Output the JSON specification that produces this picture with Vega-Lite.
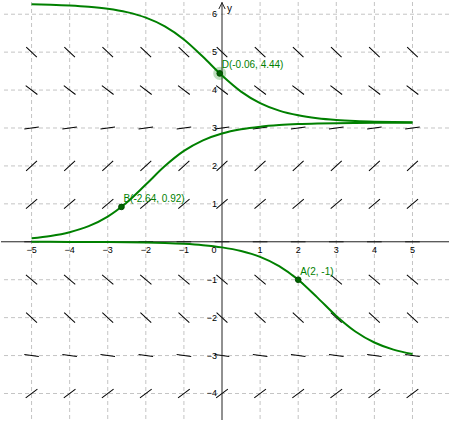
{
  "$schema": "https://vega.github.io/schema/vega-lite/v6.json",
  "width": 450,
  "height": 421,
  "autosize": {"type": "fit", "contains": "padding"},
  "padding": 0,
  "background": "white",
  "config": {"view": {"stroke": null}},
  "datasets": {
    "gridx": [{"v": -5}, {"v": -4}, {"v": -3}, {"v": -2}, {"v": -1}, {"v": 1}, {"v": 2}, {"v": 3}, {"v": 4}, {"v": 5}],
    "gridy": [{"v": -4}, {"v": -3}, {"v": -2}, {"v": -1}, {"v": 1}, {"v": 2}, {"v": 3}, {"v": 4}, {"v": 5}, {"v": 6}],
    "field": [
      {"x": -5, "y": 5, "slope_deg": -43.8}, {"x": -4, "y": 5, "slope_deg": -43.8}, {"x": -3, "y": 5, "slope_deg": -43.8}, {"x": -2, "y": 5, "slope_deg": -43.8}, {"x": -1, "y": 5, "slope_deg": -43.8}, {"x": 0, "y": 5, "slope_deg": -43.8}, {"x": 1, "y": 5, "slope_deg": -43.8}, {"x": 2, "y": 5, "slope_deg": -43.8}, {"x": 3, "y": 5, "slope_deg": -43.8}, {"x": 4, "y": 5, "slope_deg": -43.8}, {"x": 5, "y": 5, "slope_deg": -43.8},
      {"x": -5, "y": 4, "slope_deg": -37.12}, {"x": -4, "y": 4, "slope_deg": -37.12}, {"x": -3, "y": 4, "slope_deg": -37.12}, {"x": -2, "y": 4, "slope_deg": -37.12}, {"x": -1, "y": 4, "slope_deg": -37.12}, {"x": 0, "y": 4, "slope_deg": -37.12}, {"x": 1, "y": 4, "slope_deg": -37.12}, {"x": 2, "y": 4, "slope_deg": -37.12}, {"x": 3, "y": 4, "slope_deg": -37.12}, {"x": 4, "y": 4, "slope_deg": -37.12}, {"x": 5, "y": 4, "slope_deg": -37.12},
      {"x": -5, "y": 3, "slope_deg": 8.03}, {"x": -4, "y": 3, "slope_deg": 8.03}, {"x": -3, "y": 3, "slope_deg": 8.03}, {"x": -2, "y": 3, "slope_deg": 8.03}, {"x": -1, "y": 3, "slope_deg": 8.03}, {"x": 0, "y": 3, "slope_deg": 8.03}, {"x": 1, "y": 3, "slope_deg": 8.03}, {"x": 2, "y": 3, "slope_deg": 8.03}, {"x": 3, "y": 3, "slope_deg": 8.03}, {"x": 4, "y": 3, "slope_deg": 8.03}, {"x": 5, "y": 3, "slope_deg": 8.03},
      {"x": -5, "y": 2, "slope_deg": 42.28}, {"x": -4, "y": 2, "slope_deg": 42.28}, {"x": -3, "y": 2, "slope_deg": 42.28}, {"x": -2, "y": 2, "slope_deg": 42.28}, {"x": -1, "y": 2, "slope_deg": 42.28}, {"x": 0, "y": 2, "slope_deg": 42.28}, {"x": 1, "y": 2, "slope_deg": 42.28}, {"x": 2, "y": 2, "slope_deg": 42.28}, {"x": 3, "y": 2, "slope_deg": 42.28}, {"x": 4, "y": 2, "slope_deg": 42.28}, {"x": 5, "y": 2, "slope_deg": 42.28},
      {"x": -5, "y": 1, "slope_deg": 40.08}, {"x": -4, "y": 1, "slope_deg": 40.08}, {"x": -3, "y": 1, "slope_deg": 40.08}, {"x": -2, "y": 1, "slope_deg": 40.08}, {"x": -1, "y": 1, "slope_deg": 40.08}, {"x": 0, "y": 1, "slope_deg": 40.08}, {"x": 1, "y": 1, "slope_deg": 40.08}, {"x": 2, "y": 1, "slope_deg": 40.08}, {"x": 3, "y": 1, "slope_deg": 40.08}, {"x": 4, "y": 1, "slope_deg": 40.08}, {"x": 5, "y": 1, "slope_deg": 40.08},
      {"x": -5, "y": 0, "slope_deg": 0}, {"x": -4, "y": 0, "slope_deg": 0}, {"x": -3, "y": 0, "slope_deg": 0}, {"x": -2, "y": 0, "slope_deg": 0}, {"x": -1, "y": 0, "slope_deg": 0}, {"x": 0, "y": 0, "slope_deg": 0}, {"x": 1, "y": 0, "slope_deg": 0}, {"x": 2, "y": 0, "slope_deg": 0}, {"x": 3, "y": 0, "slope_deg": 0}, {"x": 4, "y": 0, "slope_deg": 0}, {"x": 5, "y": 0, "slope_deg": 0},
      {"x": -5, "y": -1, "slope_deg": -40.08}, {"x": -4, "y": -1, "slope_deg": -40.08}, {"x": -3, "y": -1, "slope_deg": -40.08}, {"x": -2, "y": -1, "slope_deg": -40.08}, {"x": -1, "y": -1, "slope_deg": -40.08}, {"x": 0, "y": -1, "slope_deg": -40.08}, {"x": 1, "y": -1, "slope_deg": -40.08}, {"x": 2, "y": -1, "slope_deg": -40.08}, {"x": 3, "y": -1, "slope_deg": -40.08}, {"x": 4, "y": -1, "slope_deg": -40.08}, {"x": 5, "y": -1, "slope_deg": -40.08},
      {"x": -5, "y": -2, "slope_deg": -42.28}, {"x": -4, "y": -2, "slope_deg": -42.28}, {"x": -3, "y": -2, "slope_deg": -42.28}, {"x": -2, "y": -2, "slope_deg": -42.28}, {"x": -1, "y": -2, "slope_deg": -42.28}, {"x": 0, "y": -2, "slope_deg": -42.28}, {"x": 1, "y": -2, "slope_deg": -42.28}, {"x": 2, "y": -2, "slope_deg": -42.28}, {"x": 3, "y": -2, "slope_deg": -42.28}, {"x": 4, "y": -2, "slope_deg": -42.28}, {"x": 5, "y": -2, "slope_deg": -42.28},
      {"x": -5, "y": -3, "slope_deg": -8.03}, {"x": -4, "y": -3, "slope_deg": -8.03}, {"x": -3, "y": -3, "slope_deg": -8.03}, {"x": -2, "y": -3, "slope_deg": -8.03}, {"x": -1, "y": -3, "slope_deg": -8.03}, {"x": 0, "y": -3, "slope_deg": -8.03}, {"x": 1, "y": -3, "slope_deg": -8.03}, {"x": 2, "y": -3, "slope_deg": -8.03}, {"x": 3, "y": -3, "slope_deg": -8.03}, {"x": 4, "y": -3, "slope_deg": -8.03}, {"x": 5, "y": -3, "slope_deg": -8.03},
      {"x": -5, "y": -4, "slope_deg": 37.12}, {"x": -4, "y": -4, "slope_deg": 37.12}, {"x": -3, "y": -4, "slope_deg": 37.12}, {"x": -2, "y": -4, "slope_deg": 37.12}, {"x": -1, "y": -4, "slope_deg": 37.12}, {"x": 0, "y": -4, "slope_deg": 37.12}, {"x": 1, "y": -4, "slope_deg": 37.12}, {"x": 2, "y": -4, "slope_deg": 37.12}, {"x": 3, "y": -4, "slope_deg": 37.12}, {"x": 4, "y": -4, "slope_deg": 37.12}, {"x": 5, "y": -4, "slope_deg": 37.12}
    ],
    "curves": [
      {"curve": "B", "x": -5, "y": 0.0935}, {"curve": "B", "x": -4.5, "y": 0.154}, {"curve": "B", "x": -4, "y": 0.253}, {"curve": "B", "x": -3.5, "y": 0.4133}, {"curve": "B", "x": -3, "y": 0.6656}, {"curve": "B", "x": -2.5, "y": 1.036}, {"curve": "B", "x": -2, "y": 1.5086}, {"curve": "B", "x": -1.5, "y": 1.9952}, {"curve": "B", "x": -1, "y": 2.3953}, {"curve": "B", "x": -0.5, "y": 2.6753}, {"curve": "B", "x": 0, "y": 2.8555}, {"curve": "B", "x": 0.5, "y": 2.9673}, {"curve": "B", "x": 1, "y": 3.0357}, {"curve": "B", "x": 1.5, "y": 3.0773}, {"curve": "B", "x": 2, "y": 3.1026}, {"curve": "B", "x": 2.5, "y": 3.118}, {"curve": "B", "x": 3, "y": 3.1273}, {"curve": "B", "x": 3.5, "y": 3.1329}, {"curve": "B", "x": 4, "y": 3.1363}, {"curve": "B", "x": 4.5, "y": 3.1384}, {"curve": "B", "x": 5, "y": 3.1397},
      {"curve": "D", "x": -5, "y": 6.2643}, {"curve": "D", "x": -4.5, "y": 6.2521}, {"curve": "D", "x": -4, "y": 6.2319}, {"curve": "D", "x": -3.5, "y": 6.1987}, {"curve": "D", "x": -3, "y": 6.1441}, {"curve": "D", "x": -2.5, "y": 6.0545}, {"curve": "D", "x": -2, "y": 5.9089}, {"curve": "D", "x": -1.5, "y": 5.6782}, {"curve": "D", "x": -1, "y": 5.3325}, {"curve": "D", "x": -0.5, "y": 4.8758}, {"curve": "D", "x": 0, "y": 4.3827}, {"curve": "D", "x": 0.5, "y": 3.9597}, {"curve": "D", "x": 1, "y": 3.6559}, {"curve": "D", "x": 1.5, "y": 3.4579}, {"curve": "D", "x": 2, "y": 3.3345}, {"curve": "D", "x": 2.5, "y": 3.2588}, {"curve": "D", "x": 3, "y": 3.2127}, {"curve": "D", "x": 3.5, "y": 3.1848}, {"curve": "D", "x": 4, "y": 3.1678}, {"curve": "D", "x": 4.5, "y": 3.1575}, {"curve": "D", "x": 5, "y": 3.1512},
      {"curve": "A", "x": -5, "y": -0.001}, {"curve": "A", "x": -4.5, "y": -0.0016}, {"curve": "A", "x": -4, "y": -0.0027}, {"curve": "A", "x": -3.5, "y": -0.0045}, {"curve": "A", "x": -3, "y": -0.0074}, {"curve": "A", "x": -2.5, "y": -0.0121}, {"curve": "A", "x": -2, "y": -0.02}, {"curve": "A", "x": -1.5, "y": -0.033}, {"curve": "A", "x": -1, "y": -0.0544}, {"curve": "A", "x": -0.5, "y": -0.0896}, {"curve": "A", "x": 0, "y": -0.1476}, {"curve": "A", "x": 0.5, "y": -0.2426}, {"curve": "A", "x": 1, "y": -0.3967}, {"curve": "A", "x": 1.5, "y": -0.6399}, {"curve": "A", "x": 2, "y": -1.0}, {"curve": "A", "x": 2.5, "y": -1.4664}, {"curve": "A", "x": 3, "y": -1.9563}, {"curve": "A", "x": 3.5, "y": -2.3661}, {"curve": "A", "x": 4, "y": -2.6559}, {"curve": "A", "x": 4.5, "y": -2.8433}, {"curve": "A", "x": 5, "y": -2.9598}
    ],
    "pts": [
      {"name": "A", "x": 2, "y": -1, "label": "A(2, -1)", "selected": false},
      {"name": "B", "x": -2.64, "y": 0.92, "label": "B(-2.64, 0.92)", "selected": false},
      {"name": "D", "x": -0.06, "y": 4.44, "label": "D(-0.06, 4.44)", "selected": true}
    ],
    "xlabels": [{"v": -5, "t": "−5"}, {"v": -4, "t": "−4"}, {"v": -3, "t": "−3"}, {"v": -2, "t": "−2"}, {"v": -1, "t": "−1"}, {"v": 1, "t": "1"}, {"v": 2, "t": "2"}, {"v": 3, "t": "3"}, {"v": 4, "t": "4"}, {"v": 5, "t": "5"}],
    "ylabels": [{"v": -4, "t": "−4"}, {"v": -3, "t": "−3"}, {"v": -2, "t": "−2"}, {"v": -1, "t": "−1"}, {"v": 1, "t": "1"}, {"v": 2, "t": "2"}, {"v": 3, "t": "3"}, {"v": 4, "t": "4"}, {"v": 5, "t": "5"}, {"v": 6, "t": "6"}],
    "axes": [{"v": 0}]
  },
  "layer": [
    {
      "data": {"name": "gridx"},
      "mark": {"type": "rule", "color": "#c4c4c4", "strokeDash": [4, 3], "strokeWidth": 1},
      "encoding": {"x": {"field": "v", "type": "quantitative", "scale": {"domain": [-5.802, 5.959], "nice": false, "zero": false}, "axis": null}}
    },
    {
      "data": {"name": "gridy"},
      "mark": {"type": "rule", "color": "#c4c4c4", "strokeDash": [4, 3], "strokeWidth": 1},
      "encoding": {"y": {"field": "v", "type": "quantitative", "scale": {"domain": [-4.699, 6.322], "nice": false, "zero": false}, "axis": null}}
    },
    {
      "data": {"name": "field"},
      "mark": {"type": "point", "shape": "stroke", "filled": false, "stroke": "black", "strokeWidth": 1, "size": 215, "opacity": 1},
      "encoding": {
        "x": {"field": "x", "type": "quantitative", "axis": null},
        "y": {"field": "y", "type": "quantitative", "axis": null},
        "angle": {"field": "slope_deg", "type": "quantitative", "scale": {"domain": [-90, 90], "range": [90, -90]}, "legend": null}
      }
    },
    {
      "data": {"name": "axes"},
      "mark": {"type": "rule", "color": "#222222", "strokeWidth": 1},
      "encoding": {"x": {"field": "v", "type": "quantitative", "axis": null}}
    },
    {
      "data": {"name": "axes"},
      "mark": {"type": "rule", "color": "#222222", "strokeWidth": 1},
      "encoding": {"y": {"field": "v", "type": "quantitative", "axis": null}}
    },
    {
      "data": {"values": [{"x": 0, "y": 6.22, "t": "y"}]},
      "mark": {"type": "point", "shape": "M-1,1L0,-1L1,1", "filled": false, "stroke": "#222222", "strokeWidth": 1, "size": 40, "opacity": 1},
      "encoding": {"x": {"field": "x", "type": "quantitative", "axis": null}, "y": {"field": "y", "type": "quantitative", "axis": null}}
    },
    {
      "data": {"values": [{"x": 0, "y": 6.13, "t": "y"}]},
      "mark": {"type": "text", "font": "Liberation Sans", "fontSize": 10, "color": "black", "align": "left", "baseline": "middle", "dx": 5},
      "encoding": {"x": {"field": "x", "type": "quantitative", "axis": null}, "y": {"field": "y", "type": "quantitative", "axis": null}, "text": {"field": "t"}}
    },
    {
      "data": {"name": "curves"},
      "mark": {"type": "line", "color": "#008000", "strokeWidth": 2, "interpolate": "monotone"},
      "encoding": {
        "x": {"field": "x", "type": "quantitative", "axis": null},
        "y": {"field": "y", "type": "quantitative", "axis": null},
        "detail": {"field": "curve"}
      }
    },
    {
      "data": {"name": "pts"},
      "transform": [{"filter": "datum.selected"}],
      "mark": {"type": "point", "filled": true, "color": "#008000", "opacity": 0.25, "size": 170},
      "encoding": {"x": {"field": "x", "type": "quantitative", "axis": null}, "y": {"field": "y", "type": "quantitative", "axis": null}}
    },
    {
      "data": {"name": "pts"},
      "mark": {"type": "point", "filled": true, "fill": "#006400", "stroke": "#004a00", "strokeWidth": 1, "opacity": 1, "size": 32},
      "encoding": {"x": {"field": "x", "type": "quantitative", "axis": null}, "y": {"field": "y", "type": "quantitative", "axis": null}}
    },
    {
      "data": {"name": "pts"},
      "mark": {"type": "text", "font": "Liberation Sans", "fontSize": 10, "color": "#008000", "align": "left", "baseline": "middle", "dx": 2, "dy": -8},
      "encoding": {"x": {"field": "x", "type": "quantitative", "axis": null}, "y": {"field": "y", "type": "quantitative", "axis": null}, "text": {"field": "label"}}
    },
    {
      "data": {"name": "xlabels"},
      "mark": {"type": "text", "font": "Liberation Sans", "fontSize": 9, "color": "black", "align": "center", "baseline": "middle", "dy": 8},
      "encoding": {"x": {"field": "v", "type": "quantitative", "axis": null}, "y": {"datum": 0, "type": "quantitative", "axis": null}, "text": {"field": "t"}}
    },
    {
      "data": {"values": [{"v": 0, "t": "0"}]},
      "mark": {"type": "text", "font": "Liberation Sans", "fontSize": 9, "color": "black", "align": "center", "baseline": "middle", "dx": -8, "dy": 8},
      "encoding": {"x": {"field": "v", "type": "quantitative", "axis": null}, "y": {"datum": 0, "type": "quantitative", "axis": null}, "text": {"field": "t"}}
    },
    {
      "data": {"name": "ylabels"},
      "mark": {"type": "text", "font": "Liberation Sans", "fontSize": 9, "color": "black", "align": "right", "baseline": "middle", "dx": -5},
      "encoding": {"y": {"field": "v", "type": "quantitative", "axis": null}, "x": {"datum": 0, "type": "quantitative", "axis": null}, "text": {"field": "t"}}
    }
  ]
}
